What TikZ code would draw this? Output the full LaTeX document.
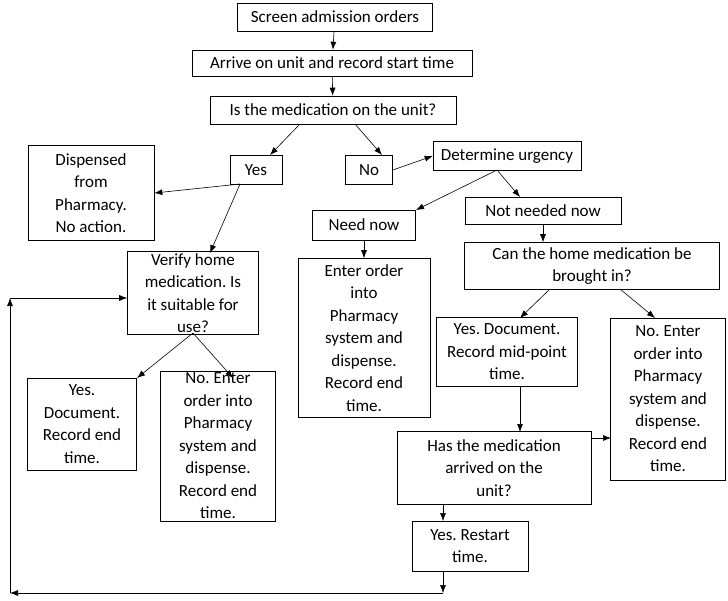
\documentclass[tikz,border=0pt]{standalone}
\usepackage{fontspec}
\setmainfont{Carlito}
\usetikzlibrary{arrows.meta}
\frenchspacing
\tikzset{box/.style={draw=black, semithick, inner sep=2pt, align=center, font=\fontsize{17}{22.5}\selectfont}}

\begin{document}
\begin{tikzpicture}[>={Latex[length=8pt,width=6pt]}, x=1pt, y=-1pt]
\useasboundingbox (0,0) rectangle (728,600);

%top line
\node[box, minimum width=195, minimum height=28] (screen) at (335,17)  {Screen admission orders};
\node[box, minimum width=280, minimum height=26] (arrive) at (332,63)  {Arrive on unit and record start time};
\node[box, minimum width=246, minimum height=28] (onunit) at (333,110) {Is the medication on the unit?};
\node[box, minimum width=52,  minimum height=29] (yes)    at (256,170) {Yes};
\node[box, minimum width=47,  minimum height=29] (no)     at (369,170) {No};

%left branch
\node[box, minimum width=126, minimum height=95]  (disp)   at (91,193)  {Dispensed\\from\\Pharmacy.\\No action.};
\node[box, minimum width=131, minimum height=80]  (verify) at (193,293) {Verify home\\medication. Is\\it suitable for\\use?};
\node[box, minimum width=109, minimum height=92]  (ydoc)   at (82,424)  {Yes.\\Document.\\Record end\\time.};
\node[box, minimum width=115, minimum height=136] (nleft)  at (218,446) {No. Enter\\order into\\Pharmacy\\system and\\dispense.\\Record end\\time.};

%right branch
\node[box, minimum width=148, minimum height=29]  (urg)    at (507,156) {Determine urgency};
\node[box, minimum width=103, minimum height=30]  (need)   at (364,225) {Need now};
\node[box, minimum width=156, minimum height=27]  (notn)   at (543,211) {Not needed now};
\node[box, minimum width=132, minimum height=159] (nmid)   at (364,338) {Enter order\\into\\Pharmacy\\system and\\dispense.\\Record end\\time.};
\node[box, minimum width=255, minimum height=47]  (can)    at (592,266) {Can the home medication be\\brought in?};
\node[box, minimum width=141, minimum height=69]  (ymid)   at (507,352) {Yes. Document.\\Record mid-point\\time.};
\node[box, minimum width=115, minimum height=162] (nright) at (668,399) {No. Enter\\order into\\Pharmacy\\system and\\dispense.\\Record end\\time.};
\node[box, minimum width=194, minimum height=73]  (arr)    at (494,468) {Has the medication\\arrived on the\\unit?};
\node[box, minimum width=116, minimum height=50]  (restart) at (470,546) {Yes. Restart\\time.};

%loop back
\coordinate (b1) at (443,593);
\coordinate (b2) at (10,593);
\coordinate (b3) at (10,298);

%arrows
\draw[->, semithick] (screen) -- (arrive);
\draw[->, semithick] (arrive) -- (onunit);
\draw[->, semithick] (300,124) -- (270,155);
\draw[->, semithick] (355,124) -- (382,155);
\draw[->, semithick] (240,184) -- (disp.east);
\draw[->, semithick] (240,184) -- (210,253);
\draw[->, semithick] (no.east) -- (urg.west);
\draw[->, semithick] (497,170) -- (416,210);
\draw[->, semithick] (497,170) -- (520,197);
\draw[->, semithick] (need) -- (nmid);
\draw[->, semithick] (notn) -- (notn |- can.north);
\draw[->, semithick] (193,333) -- (137,378);
\draw[->, semithick] (193,333) -- (233,378);
\draw[->, semithick] (550,289) -- (520,318);
\draw[->, semithick] (620,289) -- (655,318);
\draw[->, semithick] (520,387) -- (520,432);
\draw[->, semithick] (591,438) -- (611,438);
\draw[->, semithick] (443,505) -- (443,521);
\draw[->, semithick] (443,571) -- (b1);
\draw[->, semithick] (b1) -- (b2);
\draw[->, semithick] (b2) -- (b3);
\draw[->, semithick] (b3) -- (verify.west |- b3);
\end{tikzpicture}
\end{document}
